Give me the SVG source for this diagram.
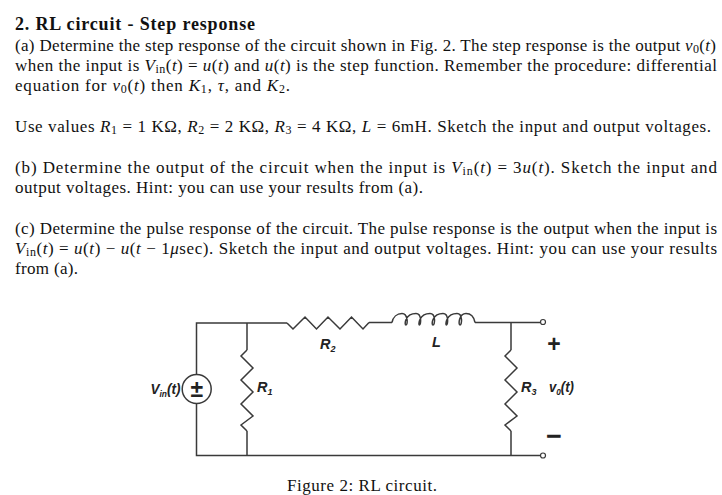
<svg xmlns="http://www.w3.org/2000/svg" width="722" height="495" viewBox="0 0 722 495">
<style>
.t{font-family:"Liberation Serif",serif;font-size:17px;fill:#111}
.h{font-weight:bold;font-size:18px}
.i{font-style:italic}
.s{font-size:12px}
.w{fill:none;stroke:#3a3a3a;stroke-width:1.5;stroke-linejoin:miter}
.c{font-family:"Liberation Sans",sans-serif;font-weight:bold;font-style:italic;font-size:14.5px;fill:#222}
.cs{font-size:9px}
.p{font-family:"Liberation Sans",sans-serif;font-weight:bold;fill:#222;text-anchor:middle}
</style>
<rect width="722" height="495" fill="#fff"/>
<g id="problem-text">
<text class="t h" x="15" y="30" textLength="240" lengthAdjust="spacing">2. RL circuit - Step response</text>
<text class="t" x="15" y="51" textLength="701" lengthAdjust="spacing">(a) Determine the step response of the circuit shown in Fig. 2. The step response is the output <tspan class="i">v</tspan><tspan class="s" dy="2">0</tspan><tspan dy="-2">(</tspan><tspan class="i">t</tspan>)</text>
<text class="t" x="15" y="71" textLength="702" lengthAdjust="spacing">when the input is <tspan class="i">V</tspan><tspan class="s" dy="2">in</tspan><tspan dy="-2">(</tspan><tspan class="i">t</tspan>) = <tspan class="i">u</tspan>(<tspan class="i">t</tspan>) and <tspan class="i">u</tspan>(<tspan class="i">t</tspan>) is the step function. Remember the procedure: differential</text>
<text class="t" x="15" y="91" textLength="275" lengthAdjust="spacing">equation for <tspan class="i">v</tspan><tspan class="s" dy="2">0</tspan><tspan dy="-2">(</tspan><tspan class="i">t</tspan>) then <tspan class="i">K</tspan><tspan class="s" dy="2">1</tspan><tspan dy="-2">, </tspan><tspan class="i">τ</tspan>, and <tspan class="i">K</tspan><tspan class="s" dy="2">2</tspan><tspan dy="-2">.</tspan></text>
<text class="t" x="15" y="132" textLength="696" lengthAdjust="spacing">Use values <tspan class="i">R</tspan><tspan class="s" dy="2">1</tspan><tspan dy="-2"> = 1 KΩ, </tspan><tspan class="i">R</tspan><tspan class="s" dy="2">2</tspan><tspan dy="-2"> = 2 KΩ, </tspan><tspan class="i">R</tspan><tspan class="s" dy="2">3</tspan><tspan dy="-2"> = 4 KΩ, </tspan><tspan class="i">L</tspan> = 6mH. Sketch the input and output voltages.</text>
<text class="t" x="15" y="173" textLength="702" lengthAdjust="spacing">(b) Determine the output of the circuit when the input is <tspan class="i">V</tspan><tspan class="s" dy="2">in</tspan><tspan dy="-2">(</tspan><tspan class="i">t</tspan>) = 3<tspan class="i">u</tspan>(<tspan class="i">t</tspan>). Sketch the input and</text>
<text class="t" x="15" y="193" textLength="408" lengthAdjust="spacing">output voltages. Hint: you can use your results from (a).</text>
<text class="t" x="15" y="234" textLength="702" lengthAdjust="spacing">(c) Determine the pulse response of the circuit. The pulse response is the output when the input is</text>
<text class="t" x="15" y="254" textLength="702" lengthAdjust="spacing"><tspan class="i">V</tspan><tspan class="s" dy="2">in</tspan><tspan dy="-2">(</tspan><tspan class="i">t</tspan>) = <tspan class="i">u</tspan>(<tspan class="i">t</tspan>) − <tspan class="i">u</tspan>(<tspan class="i">t</tspan> − 1<tspan class="i">μ</tspan>sec). Sketch the input and output voltages. Hint: you can use your results</text>
<text class="t" x="15" y="274" textLength="63" lengthAdjust="spacing">from (a).</text>
</g>
<g id="connectors">
<path class="w" d="M196.500 374.500V323H287M247 323V350M196.500 403.500V455.500H540M369 322.500H392M475 322.500H540.500M511 322.500V350M511 431V455.500M247 431V455.500"/>
</g>
<g id="source">
<circle class="w" cx="196.700" cy="389" r="14.500"/>
<text class="p" x="196.700" y="397" font-size="23">±</text>
<text class="c" x="150.500" y="394" textLength="30" lengthAdjust="spacingAndGlyphs">V<tspan class="cs" dy="3">in</tspan><tspan dy="-3">(t)</tspan></text>
</g>
<g id="R1">
<path class="w" d="M247 350L241 356L253 368L241 380L253 392L241 404L253 416L241 425L247 431"/>
<text class="c" x="257" y="392">R<tspan class="cs" dy="3">1</tspan></text>
</g>
<g id="R2">
<path class="w" d="M287 323L293 329L305 317L316.500 329L328 317L340 329L351.500 317L363 329L369 322.500"/>
<text class="c" x="320" y="349">R<tspan class="cs" dy="3">2</tspan></text>
</g>
<g id="L">
<path class="w" d="M392 322.500C393 317 397 313.500 402 313.500C408 313.500 408 325 406 325C404 325 405 313.500 416 313.500C422 313.500 421 325 419.500 325C418 325 419 313.500 430 313.500C436 313.500 435 325 433 325C431 325 432 313.500 443 313.500C449 313.500 448 325 446.500 325C445 325 446 313.500 457 313.500C463 313.500 462 325 460 325C458 325 459 313.500 466 313.500C471 313.500 474 317 475 322.500"/>
<text class="c" x="432" y="347">L</text>
</g>
<g id="R3">
<path class="w" d="M511 350L505 356L517 368L505 380L517 392L505 404L517 416L505 425L511 431"/>
<text class="c" x="521" y="392">R<tspan class="cs" dy="3">3</tspan></text>
</g>
<g id="output">
<circle cx="543" cy="322" r="2.500" fill="#fff" stroke="#3a3a3a" stroke-width="1.200"/>
<circle cx="543" cy="455.500" r="2.500" fill="#fff" stroke="#3a3a3a" stroke-width="1.200"/>
<text class="p" x="554" y="352" font-size="23">+</text>
<text class="p" x="554" y="445" font-size="27">−</text>
<text class="c" x="549" y="392" textLength="25" lengthAdjust="spacingAndGlyphs">v<tspan class="cs" dy="3">0</tspan><tspan dy="-3">(t)</tspan></text>
</g>
<text class="t" x="287" y="490.500" textLength="150" lengthAdjust="spacing">Figure 2: RL circuit.</text>
</svg>
